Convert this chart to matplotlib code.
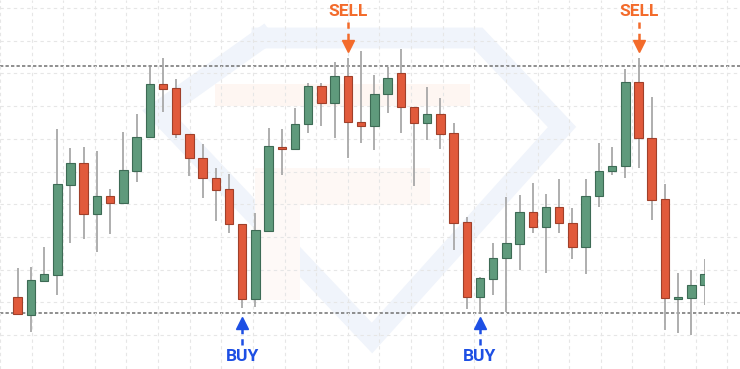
import numpy as np
import matplotlib.pyplot as plt
from matplotlib.patches import Rectangle

# candle values (price units, up = higher)
opens  = [43, 25, 59, 65, 155, 177, 126, 144, 137, 169, 203, 256, 252, 206, 182, 162, 151, 116,
          41, 109, 193, 191, 216, 254, 237, 264, 218, 214, 246, 267, 233, 217, 226, 207, 118,
          43, 61, 82, 96, 128, 113, 133, 117, 93, 144, 169, 174, 258, 202, 141, 41, 42, 55]
closes = [26, 60, 66, 156, 177, 126, 144, 137, 170, 203, 256, 251, 206, 182, 162, 150, 116, 41,
          110, 194, 191, 216, 254, 237, 264, 218, 214, 246, 262, 233, 217, 226, 206, 117, 43,
          62, 82, 97, 128, 113, 133, 117, 93, 144, 169, 174, 258, 202, 140, 42, 43, 55, 66]
highs  = [72, 73, 93, 211, 192, 193, 189, 151, 208, 226, 273, 282, 261, 206, 196, 172, 166, 116,
          127, 212, 211, 232, 257, 257, 278, 282, 289, 265, 273, 291, 233, 253, 242, 217, 123,
          63, 97, 143, 145, 157, 146, 161, 132, 161, 197, 193, 271, 282, 243, 156, 67, 70, 81]
lows   = [26, 8, 59, 45, 97, 101, 88, 106, 137, 158, 203, 228, 202, 164, 142, 119, 107, 32,
          33, 109, 165, 191, 207, 214, 202, 182, 197, 190, 227, 207, 154, 200, 191, 90, 31,
          28, 45, 28, 70, 107, 67, 107, 81, 66, 133, 165, 162, 172, 120, 10, 7, 5, 35]

support = 27
resistance = 274
sell_idx = [25, 47]
buy_idx = [17, 35]

green, green_edge = '#5f9a7c', '#3d6b55'
red, red_edge = '#e15a3b', '#a0402a'
wick_col = '#a8a8a8'
sell_col = '#f36b2b'
buy_col = '#1d4fe4'

fig = plt.figure(figsize=(7.4, 3.69), dpi=100)

# faint logo watermark, drawn in pixel coordinates
bg = fig.add_axes([0, 0, 1, 1])
bg.set_xlim(0, 740)
bg.set_ylim(369, 0)
bg.axis('off')
bg.plot([262, 478, 562, 372, 158, 262], [38, 38, 127, 338, 112, 38],
        color='#f0f4fb', lw=15, solid_joinstyle='miter', zorder=0)
bg.fill_between([215, 470], 84, 106, color='#fef6f2', lw=0, zorder=0)
bg.fill_between([255, 430], 168, 205, color='#fef8f5', lw=0, zorder=0)
bg.fill_between([255, 300], 205, 300, color='#fef9f7', lw=0, zorder=0)

ax = fig.add_axes([0, 0, 1, 1])
ax.patch.set_alpha(0)
ax.set_xlim(-16 / 13.24, (740 - 16) / 13.24)
ax.set_ylim(-29, 340)

ax.set_xticks(np.arange(1.057 - 2.394, 55, 2.394))
ax.set_yticks(np.arange(5, 340, 32.7))
ax.grid(True, color='#e6e6e6', lw=0.8, linestyle=(0, (3, 3)))
ax.tick_params(length=0, labelbottom=False, labelleft=False)
for s in ax.spines.values():
    s.set_visible(False)

clip = Rectangle((-5, -100), 57.05, 600, transform=ax.transData)
w = 0.64
for i, (o, h, l, c) in enumerate(zip(opens, highs, lows, closes)):
    up = c >= o
    ln = ax.vlines(i, l, h, color=wick_col, lw=1.3, zorder=2)
    body = Rectangle((i - w / 2, min(o, c)), w, max(abs(c - o), 1.5),
                     facecolor=green if up else red,
                     edgecolor=green_edge if up else red_edge, lw=0.8, zorder=3)
    ax.add_patch(body)
    ln.set_clip_path(clip)
    body.set_clip_path(clip)

ax.axhline(support, color='#7b7b7b', lw=1.2, linestyle=(0, (2, 1.3)), zorder=1)
ax.axhline(resistance, color='#7b7b7b', lw=1.2, linestyle=(0, (2, 1.3)), zorder=1)

for i in sell_idx:
    ax.text(i, 328, 'SELL', ha='center', va='center', color=sell_col,
            fontsize=12.5, fontweight='bold', family='Roboto')
    ax.plot([i, i], [318, 300], color=sell_col, lw=1.8, linestyle=(0, (2.5, 2)))
    ax.plot(i, 294, marker='v', ms=9, color=sell_col, mec=sell_col)

for i in buy_idx:
    ax.text(i, -16.5, 'BUY', ha='center', va='center', color=buy_col,
            fontsize=12.5, fontweight='bold', family='Roboto')
    ax.plot([i, i], [-5, 11], color=buy_col, lw=1.8, linestyle=(0, (2.5, 2)))
    ax.plot(i, 17, marker='^', ms=9, color=buy_col, mec=buy_col)

plt.savefig('out.png', dpi=100)
